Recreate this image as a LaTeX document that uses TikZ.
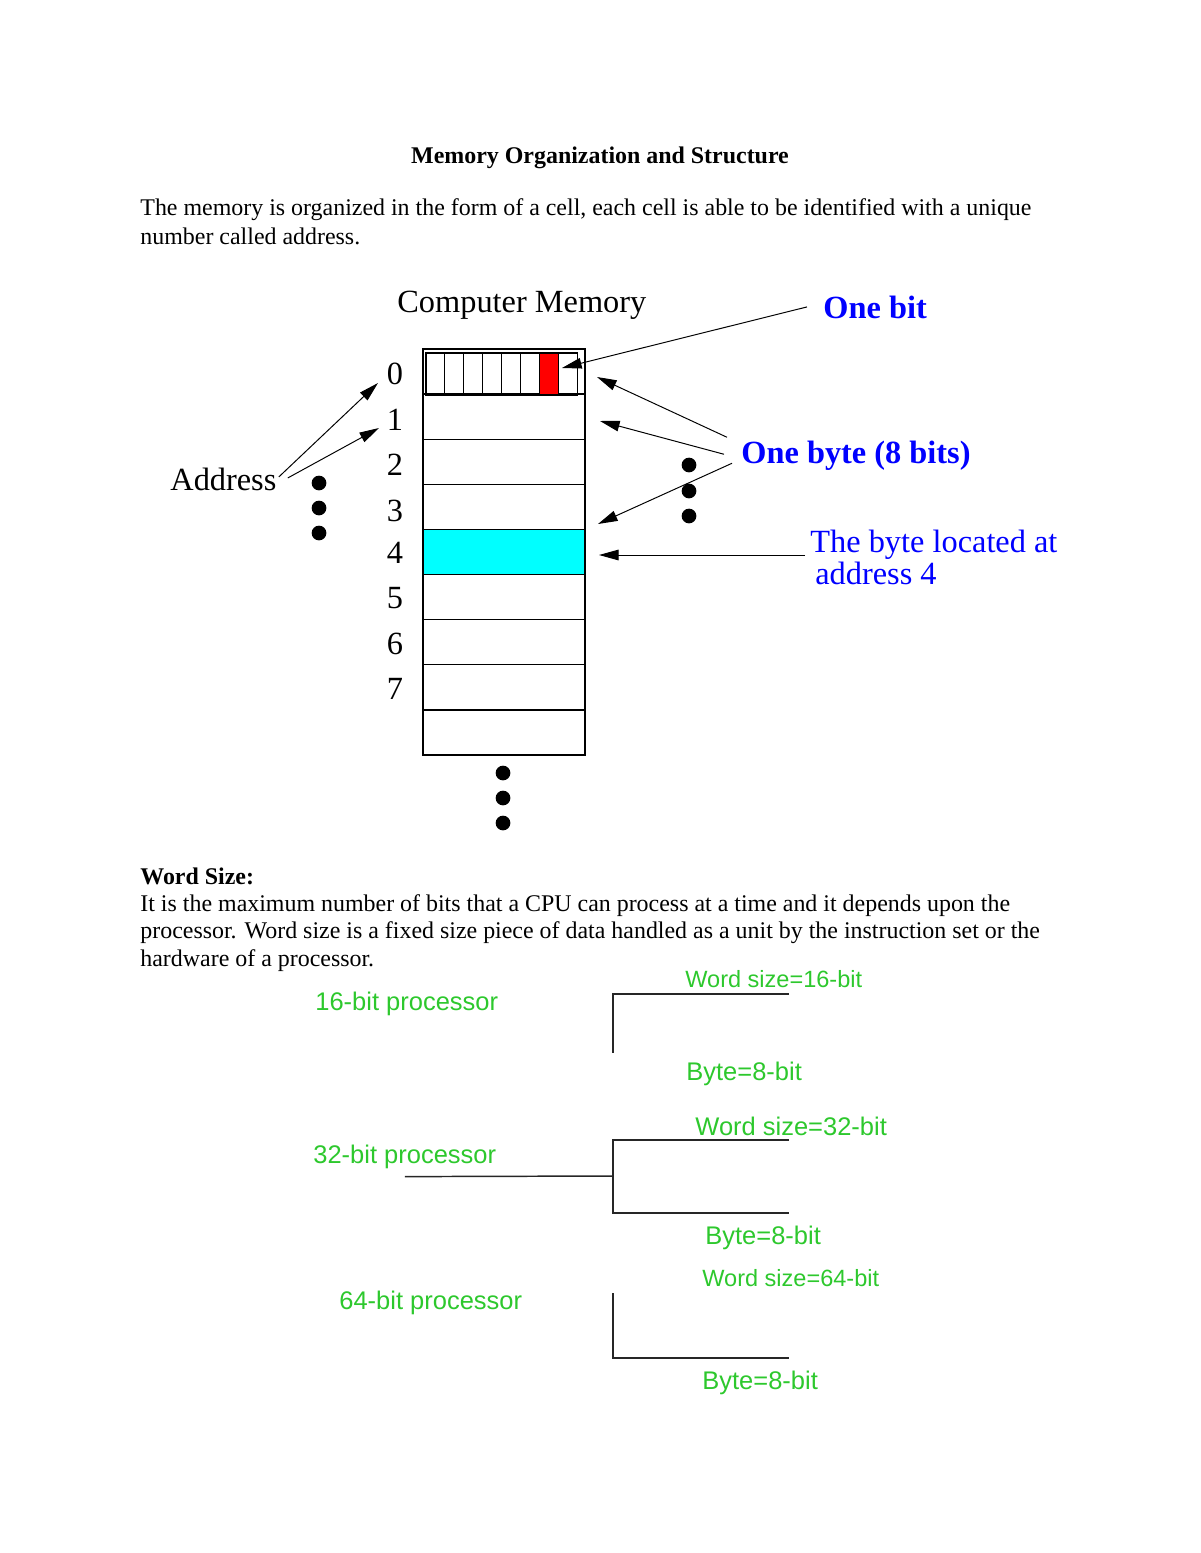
\documentclass[tikz,border=0pt]{standalone}
\usepackage{fontspec}
\setmainfont{Liberation Serif}
\newfontfamily\arialfont{Liberation Sans}
\usetikzlibrary{arrows.meta}
\definecolor{memblue}{RGB}{0,0,255}
\definecolor{wordgreen}{RGB}{45,200,45}
\definecolor{bytecyan}{RGB}{0,255,255}

\begin{document}
\begin{tikzpicture}[
        x=0.51pt, y=-0.51pt,
        txt/.style    = {anchor=base west, inner sep=0pt, font=\fontsize{12.2}{14}\selectfont},
        big/.style    = {inner sep=0pt, font=\fontsize{16.5}{19}\selectfont},
        blu/.style    = {big, anchor=base west, text=memblue},
        grn/.style    = {anchor=west, inner sep=0pt, text=wordgreen, text height=9.4pt, text depth=0pt,
                         font=\arialfont\fontsize{13}{15}\selectfont},
        row/.style    = {draw, line width=0.7pt, minimum width=82.6pt, minimum height=23pt, inner sep=0pt},
        dot/.style    = {circle, fill, minimum size=7.5pt, inner sep=0pt},
        ptr/.style    = {-{Triangle[length=10pt,width=5.4pt]}, line width=0.5pt},
        branch/.style = {line width=0.75pt, draw=black!85}
    ]
    \useasboundingbox (0,0) rectangle (1200,1553);

    % text
    \node[txt, anchor=base, font=\bfseries\fontsize{12.2}{14}\selectfont] (title) at (600,164) {Memory Organization and Structure};
    \node[txt] (intro1) at (140,215) {The memory is organized in the form of a cell, each cell is able to be identified with a unique};
    \node[txt] (intro2) at (140,245) {number called address.};

    % memory
    \node[big, anchor=base west] (cmlbl) at (397,312) {Computer Memory};
    \foreach \i in {0,...,8}
        \node[row] (m\i) at (504,371.6+45.1*\i) {};
    \node[row, fill=bytecyan] at (m4) {};
    \foreach \b in {0,...,7}
        \draw[line width=0.6pt] (426+18.9*\b,353) rectangle ++(18.9,42);
    \draw[line width=0.6pt, fill=red] (426+18.9*6,353) rectangle ++(18.9,42);

    \foreach \n/\y in {0/374,1/420,2/465,3/511,4/553,5/598,6/644,7/689}
        \node[big] (a\n) at (395,\y) {\n};

    \node[big, anchor=base west] (addr) at (170,490) {Address};
    \node[blu, font=\bfseries\fontsize{16.5}{19}\selectfont] (bitlbl) at (823,318) {One bit};
    \node[blu, font=\bfseries\fontsize{16.5}{19}\selectfont] (bytelbl) at (741,463) {One byte (8 bits)};
    \node[blu, align=left, font=\fontsize{16.5}{14.8}\selectfont] (at4) at (810,584)
        {\lineskiplimit=-10pt\relax The byte located at\\\hspace{2.5pt}address 4};

    \coordinate (addr0) at (378,383);
    \coordinate (addr1) at (379,428);
    \coordinate (bit6)  at (562,368);
    \coordinate (byte0) at (597,377);
    \coordinate (byte1) at (600,421);
    \coordinate (byte3) at (598,524);
    \coordinate (byte4) at (599,555);

    \draw[ptr] ([shift={(2,-2)}]addr.east)  -- (addr0);
    \draw[ptr] ([shift={(11,-1)}]addr.east) -- (addr1);
    \draw[ptr] ([shift={(-16,0)}]bitlbl.west) -- (bit6);
    \draw[ptr] ([shift={(-14,-18)}]bytelbl.west) -- (byte0);
    \draw[ptr] ([shift={(-17,-1)}]bytelbl.west)  -- (byte1);
    \draw[ptr] ([shift={(-9,8)}]bytelbl.west)    -- (byte3);
    \draw[ptr] (805,555) -- (byte4);

    \foreach \y [count=\k] in {483,508,533} \node[dot] (dl\k) at (319,\y) {};
    \foreach \y [count=\k] in {465,491,516} \node[dot] (dr\k) at (689,\y) {};
    \foreach \y [count=\k] in {773,798,823} \node[dot] (db\k) at (503,\y) {};

    % word size
    \node[txt, font=\bfseries\fontsize{12.2}{14}\selectfont] (wslbl) at (140,884) {Word Size:};
    \node[txt] (ws1) at (140,911) {It is the maximum number of bits that a CPU can process at a time and it depends upon the};
    \node[txt] (ws2) at (140,938) {processor. Word size is a fixed size piece of data handled as a unit by the instruction set or the};
    \node[txt] (ws3) at (140,966) {hardware of a processor.};

    \node[grn] (p16) at (315,1001) {16-bit processor};
    \node[grn, font=\arialfont\fontsize{12}{14}\selectfont, text height=8.7pt] (w16) at (685,979) {Word size=16-bit};
    \node[grn] (b16) at (686,1071) {Byte=8-bit};
    \draw[branch] (789,994) -- (613,994) -- (613,1053);

    \node[grn] (p32) at (313,1154) {32-bit processor};
    \node[grn] (w32) at (695,1126) {Word size=32-bit};
    \node[grn] (b32) at (705,1235) {Byte=8-bit};
    \coordinate (j32) at (613,1176);
    \draw[branch] ([shift={(0,13)}]p32.south) -- (j32);
    \draw[branch] (789,1140) -- (613,1140) -- (613,1213) -- (789,1213);

    \node[grn] (p64) at (339,1300) {64-bit processor};
    \node[grn, font=\arialfont\fontsize{12}{14}\selectfont, text height=8.7pt] (w64) at (702,1278) {Word size=64-bit};
    \node[grn] (b64) at (702,1380) {Byte=8-bit};
    \draw[branch] (613,1293) -- (613,1358) -- (789,1358);
\end{tikzpicture}
\end{document}
